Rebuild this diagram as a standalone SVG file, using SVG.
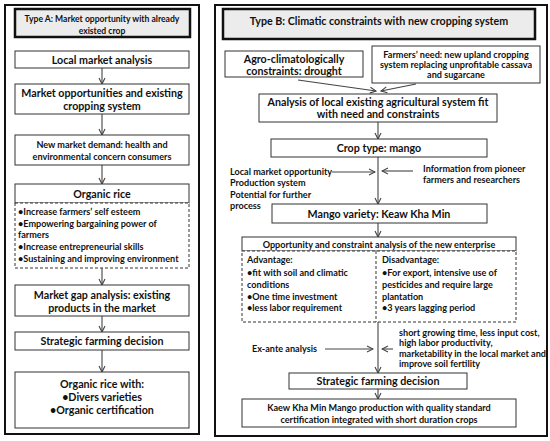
<svg xmlns="http://www.w3.org/2000/svg" width="550" height="441" viewBox="0 0 550 441">
<defs>
<marker id="arr" viewBox="0 0 8 8" refX="7" refY="4" markerWidth="8" markerHeight="8" markerUnits="userSpaceOnUse" orient="auto">
<path d="M1,1 L7,4 L1,7" fill="none" stroke="#444" stroke-width="1.1"/>
</marker>
<style>
text{font-family:Lato,"Liberation Sans",sans-serif;font-weight:bold;fill:#111}
.c{text-anchor:middle}
.b{font-size:10.7px}
.s{font-size:9.1px}
.t{font-size:8.6px}
.box{fill:#fff;stroke:#333;stroke-width:1}
.dash{fill:#fff;stroke:#333;stroke-width:1;stroke-dasharray:3,2}
.title{fill:#ececec;stroke:#111;stroke-width:2.5}
.outer{fill:none;stroke:#111;stroke-width:2}
.ln{stroke:#444;stroke-width:1.1;fill:none;marker-end:url(#arr)}
</style>
</defs>
<rect width="550" height="441" fill="#fff"/>
<rect class="outer" x="5" y="5" width="194" height="429"/>
<rect class="outer" x="215" y="5" width="332" height="431"/>

<g id="connectors">
<line class="ln" x1="102" y1="68" x2="102" y2="84"/>
<line class="ln" x1="102" y1="114" x2="102" y2="135"/>
<line class="ln" x1="102" y1="165" x2="102" y2="184"/>
<line class="ln" x1="102" y1="268" x2="102" y2="285"/>
<line class="ln" x1="102" y1="316" x2="102" y2="332"/>
<line class="ln" x1="102" y1="350" x2="102" y2="372"/>
<line class="ln" x1="298" y1="80" x2="376" y2="91"/>
<line class="ln" x1="416" y1="84" x2="381" y2="91"/>
<line class="ln" x1="378" y1="122" x2="378" y2="139"/>
<line class="ln" x1="378" y1="157" x2="378" y2="204"/>
<line class="ln" x1="332" y1="172" x2="375" y2="172"/>
<line class="ln" x1="413" y1="171" x2="382" y2="171"/>
<line class="ln" x1="378" y1="223" x2="378" y2="237"/>
<line class="ln" x1="378" y1="322" x2="378" y2="373"/>
<line class="ln" x1="325" y1="349" x2="373" y2="349"/>
<line class="ln" x1="393" y1="349" x2="382" y2="349"/>
<line class="ln" x1="378" y1="389" x2="378" y2="399"/>
</g>

<g id="typeA-title">
<rect class="title" x="15" y="9" width="175" height="28"/>
<text class="c t" x="102" y="22">Type A: Market opportunity with already</text>
<text class="c t" x="102" y="34">existed crop</text>
</g>
<g id="a-local">
<rect class="box" x="15" y="51" width="174" height="17"/>
<text class="c b" x="102" y="63.5">Local market analysis</text>
</g>
<g id="a-opport">
<rect class="box" x="15" y="84" width="174" height="30"/>
<text class="c b" x="102" y="97">Market opportunities and existing</text>
<text class="c b" x="102" y="110">cropping system</text>
</g>
<g id="a-demand">
<rect class="box" x="15" y="135" width="174" height="30"/>
<text class="c s" x="102" y="148">New market demand: health and</text>
<text class="c s" x="102" y="160">environmental concern consumers</text>
</g>
<g id="a-organic">
<rect class="box" x="15" y="184" width="174" height="19"/>
<text class="c b" x="102" y="197.5">Organic rice</text>
</g>
<g id="a-benefits">
<rect class="dash" x="15" y="203" width="174" height="65"/>
<text class="s" x="18" y="215">•Increase farmers’ self esteem</text>
<text class="s" x="18" y="227">•Empowering bargaining power of</text>
<text class="s" x="18" y="238">farmers</text>
<text class="s" x="18" y="250">•Increase entrepreneurial skills</text>
<text class="s" x="18" y="262">•Sustaining and improving environment</text>
</g>
<g id="a-gap">
<rect class="box" x="15" y="285" width="174" height="31"/>
<text class="c b" x="102" y="299">Market gap analysis: existing</text>
<text class="c b" x="102" y="311.5">products in the market</text>
</g>
<g id="a-strategic">
<rect class="box" x="15" y="332" width="174" height="18"/>
<text class="c b" x="102" y="345">Strategic farming decision</text>
</g>
<g id="a-result">
<rect class="box" x="15" y="372" width="174" height="56"/>
<text class="c b" x="102" y="388">Organic rice with:</text>
<text class="c b" x="102" y="401">•Divers varieties</text>
<text class="c b" x="102" y="414">•Organic certification</text>
</g>

<g id="typeB-title">
<rect class="title" x="223" y="9" width="312" height="30"/>
<text class="c b" x="379" y="25">Type B:  Climatic constraints with new cropping system</text>
</g>
<g id="b-agro">
<rect class="box" x="225" y="51" width="138" height="26"/>
<text class="c b" x="294" y="63">Agro-climatologically</text>
<text class="c b" x="294" y="75">constraints: drought</text>
</g>
<g id="b-farmers">
<rect class="box" x="372" y="46" width="168" height="37"/>
<text class="c s" x="456" y="58">Farmers’ need: new upland cropping</text>
<text class="c s" x="456" y="68">system replacing unprofitable cassava</text>
<text class="c s" x="456" y="78">and sugarcane</text>
</g>
<g id="b-analysis">
<rect class="box" x="259" y="94" width="238" height="28"/>
<text class="c b" x="378" y="106">Analysis of local existing agricultural system fit</text>
<text class="c b" x="378" y="118">with need and constraints</text>
</g>
<g id="b-crop">
<rect class="box" x="271" y="139" width="216" height="18"/>
<text class="c b" x="379" y="152">Crop type: mango</text>
</g>
<g id="b-left-info">
<text class="s" x="230" y="175">Local market opportunity</text>
<text class="s" x="230" y="186">Production system</text>
<text class="s" x="230" y="198">Potential for further</text>
<text class="s" x="230" y="209">process</text>
</g>
<g id="b-right-info">
<text class="s" x="423" y="172">Information from pioneer</text>
<text class="s" x="423" y="183">farmers and researchers</text>
</g>
<g id="b-mango">
<rect class="box" x="272" y="204" width="215" height="19"/>
<text class="c b" x="379" y="217.5">Mango variety: Keaw Kha Min</text>
</g>
<g id="b-opp">
<rect class="box" x="242" y="237" width="274" height="14"/>
<text class="c s" x="379" y="247.5">Opportunity and constraint analysis of the new enterprise</text>
</g>
<g id="b-advdis">
<rect class="dash" x="242" y="251" width="274" height="71"/>
<line x1="376" y1="251" x2="376" y2="322" stroke="#333" stroke-width="1" stroke-dasharray="3,2"/>
<text class="s" x="247" y="263">Advantage:</text>
<text class="s" x="247" y="276">•fit with soil and climatic</text>
<text class="s" x="247" y="288">conditions</text>
<text class="s" x="247" y="300">•One time investment</text>
<text class="s" x="247" y="311">•less labor requirement</text>
<text class="s" x="382" y="263">Disadvantage:</text>
<text class="s" x="382" y="276">•For export, intensive use of</text>
<text class="s" x="382" y="288">pesticides and require large</text>
<text class="s" x="382" y="300">plantation</text>
<text class="s" x="382" y="311">•3 years lagging period</text>
</g>
<g id="b-exante">
<text class="s" x="252" y="352">Ex-ante analysis</text>
</g>
<g id="b-criteria">
<text class="s" x="399" y="336">short growing time, less input cost,</text>
<text class="s" x="399" y="346">high labor productivity,</text>
<text class="s" x="399" y="357">marketability in the local market and</text>
<text class="s" x="399" y="367">improve soil fertility</text>
</g>
<g id="b-strategic">
<rect class="box" x="289" y="373" width="178" height="16"/>
<text class="c b" x="378" y="385">Strategic farming decision</text>
</g>
<g id="b-result">
<rect class="box" x="242" y="399" width="274" height="28"/>
<text class="c s" x="379" y="411">Kaew Kha Min Mango production with quality standard</text>
<text class="c s" x="379" y="423">certification integrated with short duration crops</text>
</g>
</svg>
